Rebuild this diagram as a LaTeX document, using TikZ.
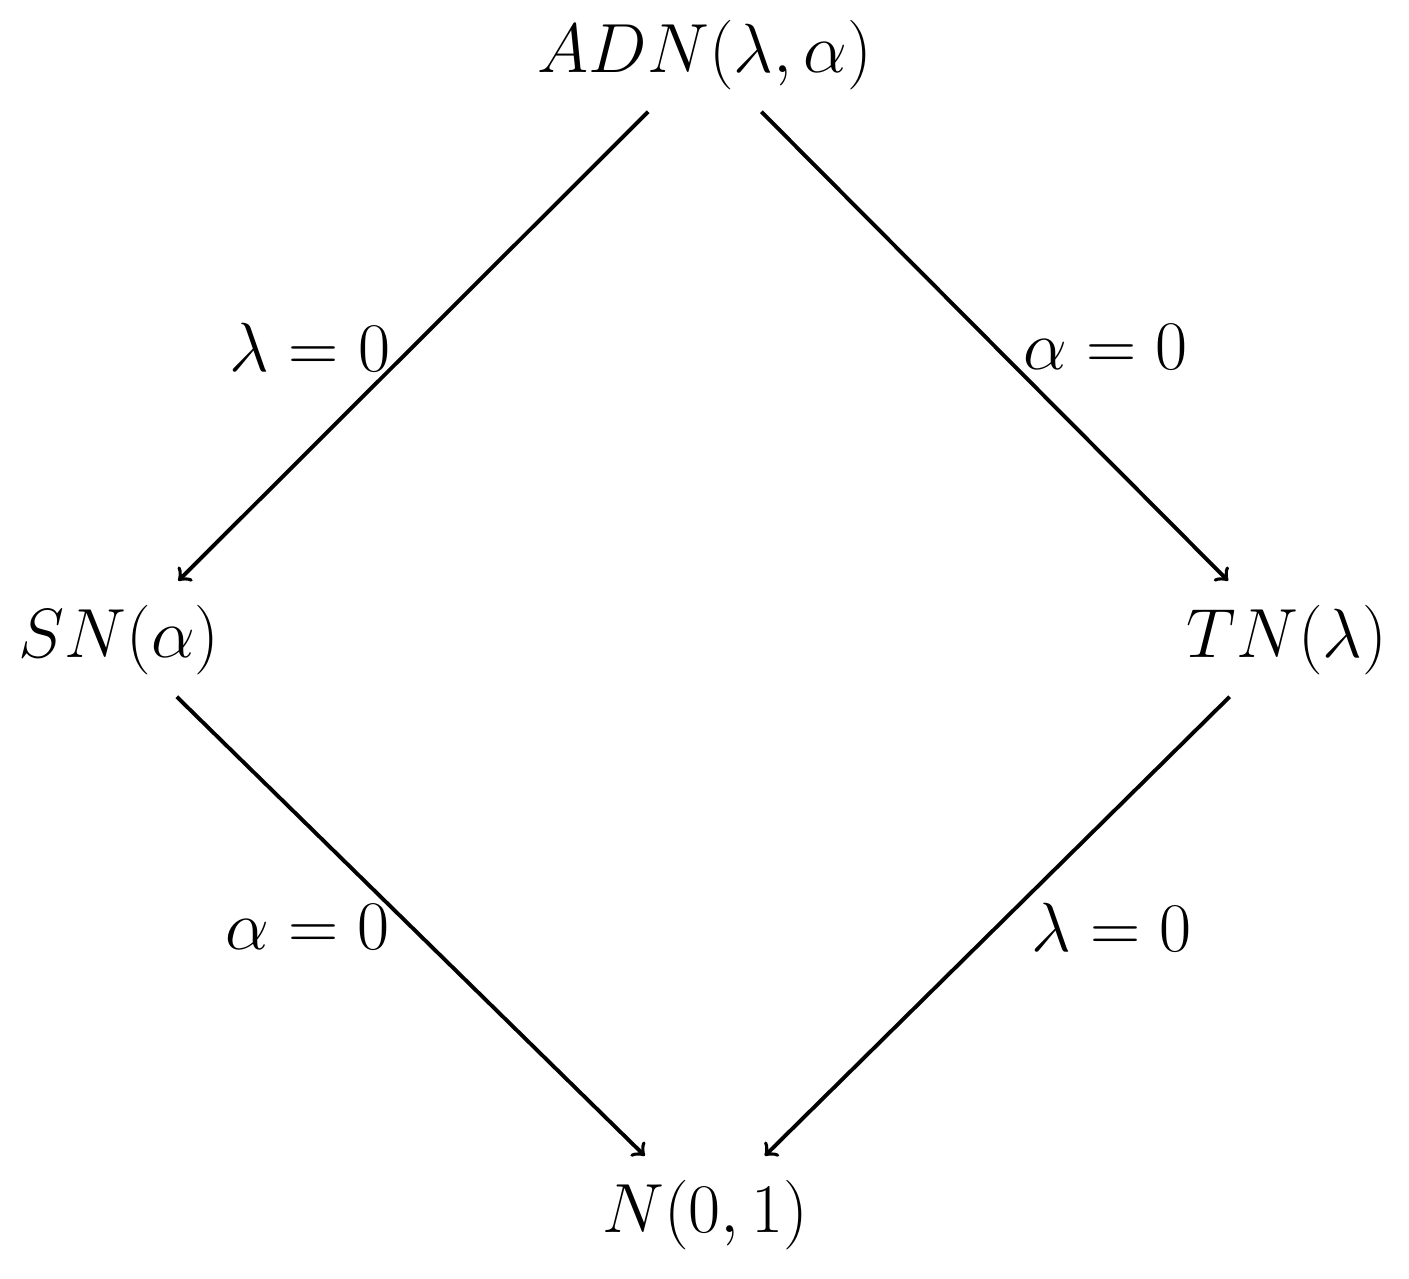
\documentclass[tikz,border=0pt]{standalone}
\usepackage{amsmath}
\usepackage{tikz}
\usetikzlibrary{arrows}

\begin{document}
\begin{tikzpicture}[->,>=to,shorten >=1pt,auto,line width=1.1pt]
\tikzset{font=\fontsize{20.74pt}{24}\selectfont}
\tikzstyle{every node}=[inner sep=6pt,scale=0.955]
\useasboundingbox (0,0) rectangle (14.09,-12.78);

        \node (ADN) at (7.05,-0.55)  {$ADN(\lambda,\alpha)$};
        \node (SN)  at (1.19,-6.40)  {$SN(\alpha)$};
        \node (TN)  at (12.87,-6.40) {$TN(\lambda)$};
        \node (N)   at (7.05,-12.15) {$N(0,1)$};

        \path[->]
        (ADN) edge node[left]  {$\lambda=0$} (SN)
        (ADN) edge node[right,xshift=1.5pt] {$\alpha=0$}  (TN)
        (SN)  edge node[left]  {$\alpha=0$}  (N)
        (TN)  edge node[right,xshift=4pt] {$\lambda=0$} (N)
        ; %end path

\end{tikzpicture}
\end{document}
